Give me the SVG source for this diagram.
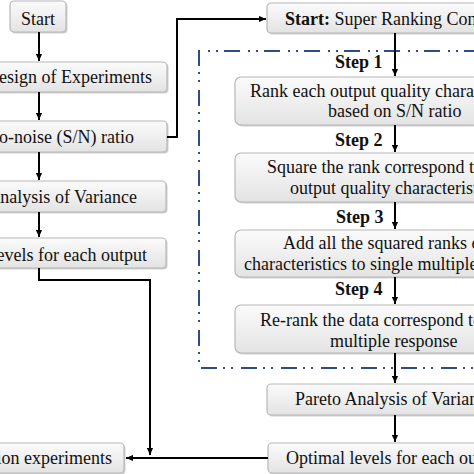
<svg xmlns="http://www.w3.org/2000/svg" width="474" height="474" viewBox="0 0 474 474">
<defs>
<linearGradient id="g" x1="0" y1="0" x2="0" y2="1">
<stop offset="0" stop-color="#fbfbfb"/>
<stop offset="1" stop-color="#e3e3e3"/>
</linearGradient>
<marker id="ah" viewBox="0 0 8 8" refX="8" refY="4" markerWidth="7" markerHeight="7" markerUnits="userSpaceOnUse" orient="auto">
<path d="M0,0.5 L8,4 L0,7.5 z" fill="#000"/>
</marker>
</defs>
<style>
.box{fill:url(#g);stroke:#b8b8b8;stroke-width:1.2}
.sh{fill:#cfcfcf}
.t{font-family:"Liberation Serif","Times New Roman",serif;font-size:18px;fill:#111}
.b{font-weight:bold}
.c{fill:none;stroke:#000;stroke-width:2}
.a{marker-end:url(#ah)}
.dd{fill:none;stroke:#2d4d84;stroke-width:2;stroke-dasharray:16 6 2 6 2 8}
</style>
<rect width="474" height="474" fill="#fff"/>
<g id="frame"><path class="dd" d="M560 51 H199 V368 H560"/></g>
<g id="n-start"><rect class="sh" x="11.5" y="2.5" width="56" height="31" rx="4"/><rect class="box" x="10" y="1" width="56" height="31" rx="4"/><text class="t" x="38" y="25" text-anchor="middle">Start</text></g>
<g id="n-doe"><rect class="sh" x="-98.5" y="63.5" width="267" height="30" rx="4"/><rect class="box" x="-100" y="62" width="267" height="30" rx="4"/><text class="t" x="152" y="83" text-anchor="end">Design of Experiments</text></g>
<g id="n-sn"><rect class="sh" x="-98.5" y="122.5" width="267" height="31" rx="4"/><rect class="box" x="-100" y="121" width="267" height="31" rx="4"/><text class="t" x="134" y="143" text-anchor="end">Signal-to-noise (S/N) ratio</text></g>
<g id="n-anova"><rect class="sh" x="-98.5" y="182.5" width="266" height="31" rx="4"/><rect class="box" x="-100" y="181" width="266" height="31" rx="4"/><text class="t" x="137" y="203" text-anchor="end">Analysis of Variance</text></g>
<g id="n-levels"><rect class="sh" x="-98.5" y="239.5" width="266" height="30" rx="4"/><rect class="box" x="-100" y="238" width="266" height="30" rx="4"/><text class="t" x="147" y="261" text-anchor="end">Optimal levels for each output</text></g>
<g id="n-confirm"><rect class="sh" x="-98.5" y="444.5" width="224" height="30" rx="4"/><rect class="box" x="-100" y="443" width="224" height="30" rx="4"/><text class="t" x="112" y="464" text-anchor="end">Confirmation experiments</text></g>
<g id="n-srstart"><rect class="sh" x="268.5" y="4.5" width="256" height="30" rx="4"/><rect class="box" x="267" y="3" width="256" height="30" rx="4"/><text class="t" x="285" y="25"><tspan class="b">Start:</tspan> Super Ranking Concept</text></g>
<g id="n-step1"><text class="t b" x="335" y="68">Step 1</text><rect class="sh" x="236.5" y="78.5" width="322" height="48" rx="6"/><rect class="box" x="235" y="77" width="322" height="48" rx="6"/><text class="t" x="250" y="97">Rank each output quality characteristics</text><text class="t" x="328" y="117">based on S/N ratio</text></g>
<g id="n-step2"><text class="t b" x="335" y="146">Step 2</text><rect class="sh" x="236.5" y="154.5" width="322" height="49" rx="6"/><rect class="box" x="235" y="153" width="322" height="49" rx="6"/><text class="t" x="267" y="173">Square the rank correspond to each</text><text class="t" x="290" y="194">output quality characteristics</text></g>
<g id="n-step3"><text class="t b" x="336" y="223">Step 3</text><rect class="sh" x="236.5" y="231.5" width="322" height="47" rx="6"/><rect class="box" x="235" y="230" width="322" height="47" rx="6"/><text class="t" x="283" y="249">Add all the squared ranks of all</text><text class="t" x="244" y="270">characteristics to single multiple response</text></g>
<g id="n-step4"><text class="t b" x="335" y="295">Step 4</text><rect class="sh" x="236.5" y="306.5" width="322" height="48" rx="6"/><rect class="box" x="235" y="305" width="322" height="48" rx="6"/><text class="t" x="260" y="326">Re-rank the data correspond to single</text><text class="t" x="330" y="347">multiple response</text></g>
<g id="n-pareto"><rect class="sh" x="268.5" y="385.5" width="256" height="31" rx="4"/><rect class="box" x="267" y="384" width="256" height="31" rx="4"/><text class="t" x="295" y="405">Pareto Analysis of Variance</text></g>
<g id="n-optimal"><rect class="sh" x="269.5" y="444.5" width="256" height="30" rx="4"/><rect class="box" x="268" y="443" width="256" height="30" rx="4"/><text class="t" x="286" y="464">Optimal levels for each output</text></g>
<g id="connectors">
<path class="c a" d="M39 32 V61"/>
<path class="c a" d="M39 92 V120"/>
<path class="c a" d="M39 152 V180"/>
<path class="c a" d="M39 212 V237"/>
<path class="c a" d="M39 268 V280 H150 V455"/>
<path class="c a" d="M268 458 H126"/>
<path class="c a" d="M167 137 H177 V19 H266"/>
<path class="c a" d="M395 33 V76"/>
<path class="c a" d="M395 125 V152"/>
<path class="c a" d="M395 202 V229"/>
<path class="c a" d="M395 277 V304"/>
<path class="c a" d="M395 353 V383"/>
<path class="c a" d="M395 415 V442"/>
</g>
</svg>
